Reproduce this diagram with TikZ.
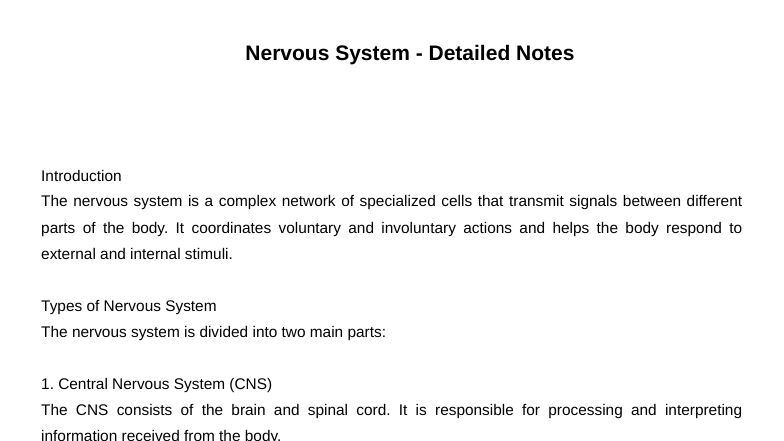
\documentclass[tikz,border=0pt]{standalone}
\usepackage{fontspec}
\setmainfont{Liberation Sans}
\frenchspacing
\begin{document}
\begin{tikzpicture}[x=1pt,y=1pt,
  ln/.style={anchor=base west,inner sep=0pt,font=\fontsize{15.4}{18}\selectfont}]
\useasboundingbox (0,0) rectangle (784,441);
\fill[white] (0,0) rectangle (784,441);
\node[anchor=base,inner sep=0pt,font=\fontsize{21}{24}\selectfont\bfseries] (title) at (410,441-61) {Nervous System - Detailed Notes};
\node[ln] (l1) at (41,441-182) {Introduction};
\node[ln] (l2) at (41,441-207) {\makebox[701pt][s]{The nervous system is a complex network of specialized cells that transmit signals between different}};
\node[ln] (l3) at (41,441-234) {\makebox[701pt][s]{parts of the body. It coordinates voluntary and involuntary actions and helps the body respond to}};
\node[ln] (l4) at (41,441-260) {external and internal stimuli.};
\node[ln] (l5) at (41,441-312) {Types of Nervous System};
\node[ln] (l6) at (41,441-338) {The nervous system is divided into two main parts:};
\node[ln] (l7) at (41,441-390) {1. Central Nervous System (CNS)};
\node[ln] (l8) at (41,441-416) {\makebox[701pt][s]{The CNS consists of the brain and spinal cord. It is responsible for processing and interpreting}};
\node[ln] (l9) at (41,441-442) {information received from the body.};
\end{tikzpicture}
\end{document}
